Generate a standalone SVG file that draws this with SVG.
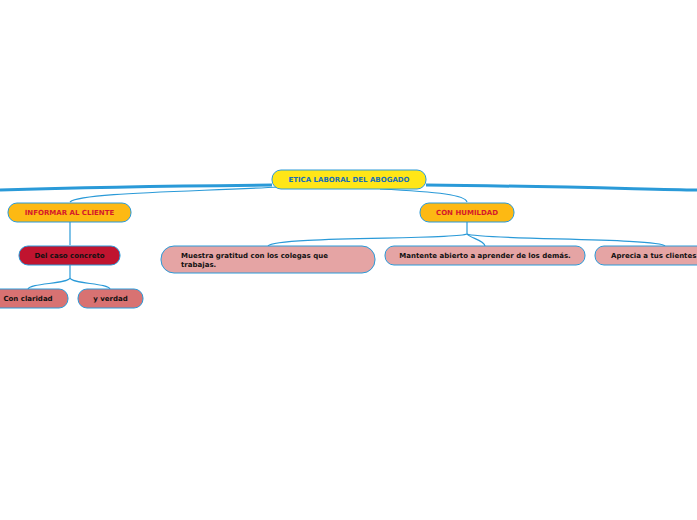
<svg xmlns="http://www.w3.org/2000/svg" width="697" height="520" viewBox="0 0 697 520">
<style>
text{font-family:Verdana,"DejaVu Sans",sans-serif;font-weight:bold;font-size:7px}
.n{stroke:#2a9ad8;stroke-width:1}
.c{fill:none;stroke:#2a9ad8;stroke-width:1.2}
.t{fill:none;stroke:#2a9ad8;stroke-width:3}
</style>
<rect width="697" height="520" fill="#fff"/>
<g id="connectors">
<path class="t" d="M272,185 C150,186 60,188 0,190"/>
<path class="t" d="M426,185 C540,186 640,189 697,190"/>
<path class="c" d="M280,187 C180,192 80,193 70,202"/>
<path class="c" d="M380,189 C440,192 465,195 467,202"/>
<path class="c" d="M70,222 L70,245"/>
<path class="c" d="M70,265 L70,278 C68,284 30,283 28,289"/>
<path class="c" d="M70,278 C72,284 108,283 110,289"/>
<path class="c" d="M467,222 L467,234 C455,240 275,236 268,246"/>
<path class="c" d="M467,234 C470,238 484,240 485,246"/>
<path class="c" d="M467,234 C480,240 660,238 665,246"/>
</g>
<g id="root"><rect class="n" x="272" y="170" width="154" height="19" rx="9" fill="#ffe617"/><text x="349" y="182" text-anchor="middle" fill="#1a6fb5">ETICA LABORAL DEL ABOGADO</text></g>
<g id="informar"><rect class="n" x="8" y="203" width="123" height="19" rx="9" fill="#fdb913"/><text x="69.5" y="215" text-anchor="middle" fill="#d5182b">INFORMAR AL CLIENTE</text></g>
<g id="humildad"><rect class="n" x="420" y="203" width="94" height="19" rx="9" fill="#fdb913"/><text x="467" y="215" text-anchor="middle" fill="#d5182b">CON HUMILDAD</text></g>
<g id="caso"><rect class="n" x="19" y="246" width="101" height="19" rx="9" fill="#c0142f"/><text x="69.5" y="258" text-anchor="middle" fill="#111">Del caso concreto</text></g>
<g id="claridad"><rect class="n" x="-10" y="289" width="78" height="19" rx="9" fill="#d87272"/><text x="28" y="301" text-anchor="middle" fill="#111">Con claridad</text></g>
<g id="verdad"><rect class="n" x="78" y="289" width="65" height="19" rx="9" fill="#d87272"/><text x="110.5" y="301" text-anchor="middle" fill="#111">y verdad</text></g>
<g id="gratitud"><rect class="n" x="161" y="246" width="214" height="27" rx="13" fill="#e5a4a4"/><text x="181" y="258" fill="#111">Muestra gratitud con los colegas que</text><text x="181" y="267" fill="#111">trabajas.</text></g>
<g id="abierto"><rect class="n" x="385" y="246" width="200" height="19" rx="9" fill="#e5a4a4"/><text x="485" y="258" text-anchor="middle" fill="#111">Mantente abierto a aprender de los demás.</text></g>
<g id="aprecia"><rect class="n" x="595" y="246" width="120" height="19" rx="9" fill="#e5a4a4"/><text x="611" y="258" fill="#111">Aprecia a tus clientes</text></g>
</svg>
